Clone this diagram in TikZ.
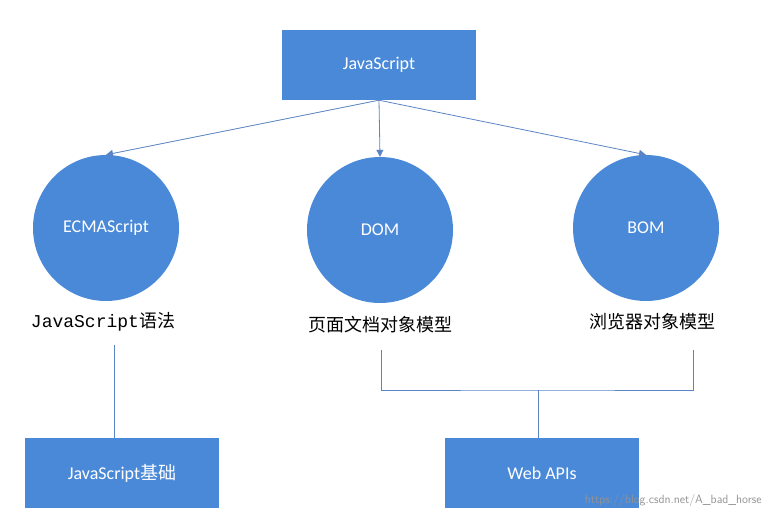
\documentclass[tikz,border=0pt]{standalone}
\usepackage{fontspec}
\setmainfont{Carlito}
\setmonofont{Liberation Mono}
\newfontfamily\cjk{Noto Sans CJK SC}
\usetikzlibrary{arrows.meta}
\definecolor{boxblue}{HTML}{4A89D8}
\definecolor{linkblue}{HTML}{5B84C4}
\begin{document}
\begin{tikzpicture}[x=1pt,y=-1pt,
  every node/.style={font=\fontsize{18}{20}\selectfont},
  block/.style={fill=boxblue,text=white,minimum width=194pt,minimum height=70pt,inner sep=0pt},
  part/.style={circle,fill=boxblue,text=white,minimum size=146pt,inner sep=0pt},
  link/.style={draw=linkblue,line width=0.8pt},
  arrow/.style={link,-{Triangle[length=7pt,width=7pt]}}]
  \useasboundingbox (0,0) rectangle (769,520);
  \node[block] (js) at (379,65) {JavaScript};
  \node[part] (ecma) at (106,228) {ECMAScript};
  \node[part] (dom) at (380,230) {DOM};
  \node[part] (bom) at (646,228) {BOM};
  \draw[arrow] (js.south) -- (ecma.north);
  \draw[arrow] (js.south) -- (dom.north);
  \draw[arrow] (js.south) -- (bom.north);
  % labels under the circles
  \node (ecmatext) at (103,322) {\texttt{JavaScript}{\cjk 语法}};
  \node (domtext) at (380,325) {\cjk 页面文档对象模型};
  \node (bomtext) at (652,322) {\cjk 浏览器对象模型};
  % lower boxes
  \node[block] (jsbase) at (122,473) {JavaScript{\cjk 基础}};
  \node[block] (webapi) at (542,473) {Web APIs};
  \coordinate (ecmafoot) at (114,345);
  \draw[link] (ecmafoot) -- (ecmafoot |- jsbase.north);
  \coordinate (domfoot) at (381,350);
  \coordinate (bomfoot) at (693,350);
  \coordinate (joint) at (538,390);
  \draw[link] (domfoot) |- (joint) -| (bomfoot);
  \draw[link] (joint) -- (joint |- webapi.north);
  \node[text=gray!85,font=\fontsize{12}{14}\selectfont\sffamily,anchor=east] (mark) at (765,500) {https://blog.csdn.net/A\_bad\_horse};
\end{tikzpicture}
\end{document}
